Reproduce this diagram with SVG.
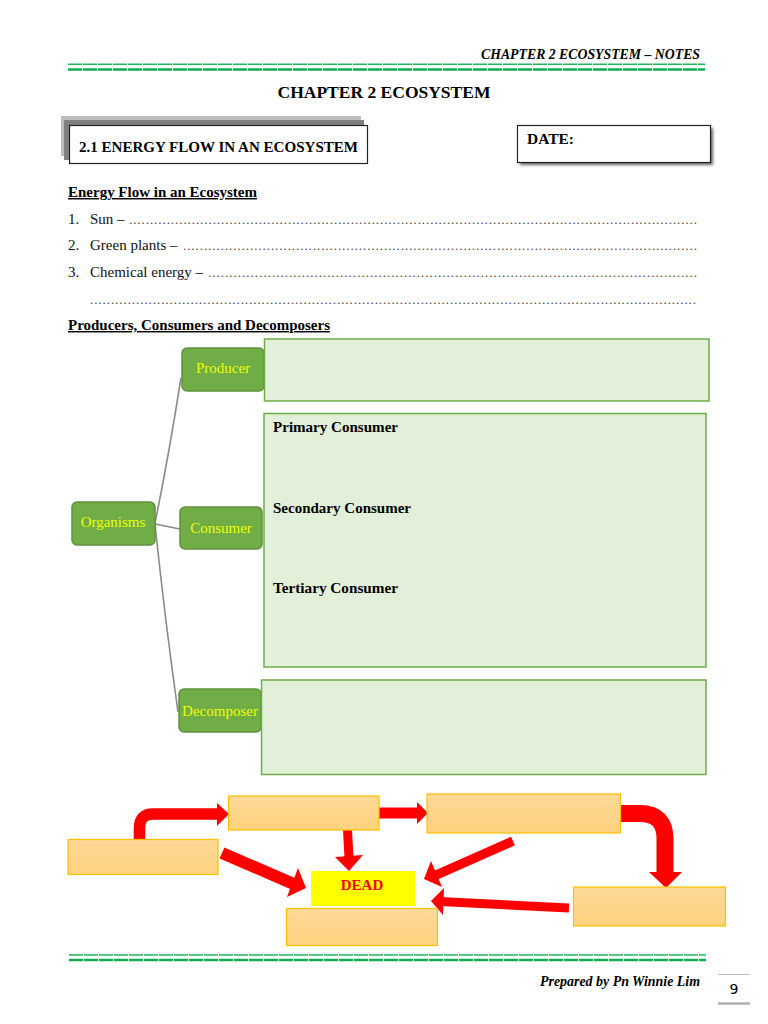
<svg xmlns="http://www.w3.org/2000/svg" width="768" height="1024" viewBox="0 0 768 1024">
<style>
text{font-family:"Liberation Serif","Times New Roman",serif;fill:#000}
.b{font-weight:700}
.t{font-size:14.500px}
.hd{font-size:14.500px;font-weight:700;text-decoration:underline}
.ln{font-size:15px;fill:#111}
.dots{font-size:13px;fill:#444}
.g{fill:#70ad47;stroke:#5f9140;stroke-width:1.5}
.gt{font-size:15px;fill:#eeff00;text-anchor:middle}
.pale{fill:#e2efd9;stroke:#70ad47;stroke-width:1.5}
.or{fill:url(#og);stroke:#ffc000;stroke-width:1.2}
.c{fill:none;stroke:#8a8a8a;stroke-width:1.6}
.ra{fill:#f00;stroke:none}
.rl{fill:none;stroke:#f00}
.gl1{stroke:#21b35c;stroke-width:1.4;stroke-dasharray:14.2 .8;fill:none}
.gl2{stroke:#10ad50;stroke-width:2.4;stroke-dasharray:14.2 .8;fill:none}
</style>
<defs>
<linearGradient id="og" x1="0" y1="0" x2="0" y2="1"><stop offset="0" stop-color="#fdd998"/><stop offset="1" stop-color="#fed27e"/></linearGradient>
<filter id="sh" x="-10%" y="-20%" width="120%" height="150%"><feGaussianBlur stdDeviation="1.500"/></filter>
</defs>
<rect width="768" height="1024" fill="#fff"/>

<g id="header">
<text x="700" y="59" text-anchor="end" font-size="14" font-weight="700" font-style="italic" textLength="219" lengthAdjust="spacingAndGlyphs">CHAPTER 2 ECOSYSTEM – NOTES</text>
<path class="gl1" d="M68 64.200H705"/><path class="gl2" d="M68 69.500H705"/>
<text x="384" y="98" text-anchor="middle" font-size="17.500" font-weight="700">CHAPTER 2 ECOSYSTEM</text>
</g>

<g id="section-title">
<rect x="61" y="116" width="300" height="40" fill="#bdbdbd"/>
<rect x="64" y="120" width="300" height="40" fill="#808080"/>
<rect x="69.500" y="125.500" width="298" height="38" fill="#fff" stroke="#222" stroke-width="1.200"/>
<text x="79" y="152" font-size="14.500" font-weight="700" textLength="279" lengthAdjust="spacingAndGlyphs">2.1 ENERGY FLOW IN AN ECOSYSTEM</text>
</g>

<g id="date">
<rect x="520" y="128" width="193" height="37" fill="#666" filter="url(#sh)"/>
<rect x="517.500" y="125.500" width="193" height="37" fill="#fff" stroke="#222" stroke-width="1.200"/>
<text x="527" y="144" font-size="15" font-weight="700" textLength="47" lengthAdjust="spacingAndGlyphs">DATE:</text>
</g>

<g id="energy-flow-text">
<text class="hd" x="68" y="197" textLength="189" lengthAdjust="spacingAndGlyphs">Energy Flow in an Ecosystem</text>
<text class="ln" x="68" y="224">1.</text><text class="ln" x="90" y="224">Sun – </text>
<text class="dots" x="129" y="224" textLength="568" lengthAdjust="spacing">........................................................................................................................................</text>
<text class="ln" x="68" y="250">2.</text><text class="ln" x="90" y="250">Green plants – </text>
<text class="dots" x="183" y="250" textLength="514" lengthAdjust="spacing">...........................................................................................................................</text>
<text class="ln" x="68" y="277">3.</text><text class="ln" x="90" y="277">Chemical energy – </text>
<text class="dots" x="208" y="277" textLength="489" lengthAdjust="spacing">...................................................................................................................</text>
<text class="dots" x="90" y="304" textLength="606" lengthAdjust="spacing">.................................................................................................................................................</text>
<text class="hd" x="68" y="330" textLength="262" lengthAdjust="spacingAndGlyphs">Producers, Consumers and Decomposers</text>
</g>

<g id="connectors">
<path class="c" d="M155 523Q168 460 181 378"/>
<path class="c" d="M155 524L180 529"/>
<path class="c" d="M155 524Q165 620 178 712"/>
</g>

<g id="organisms"><rect class="g" x="72" y="502" width="83" height="43" rx="5"/><text class="gt" x="113" y="527">Organisms</text></g>
<g id="producer"><rect class="g" x="182" y="348" width="82" height="43" rx="5"/><text class="gt" x="223" y="373">Producer</text></g>
<g id="consumer"><rect class="g" x="180" y="507" width="82" height="42" rx="5"/><text class="gt" x="221" y="533">Consumer</text></g>
<g id="decomposer"><rect class="g" x="179" y="689" width="82" height="43" rx="5"/><text class="gt" x="220" y="716">Decomposer</text></g>

<g id="producer-box"><rect class="pale" x="264.500" y="339" width="444.500" height="62"/></g>
<g id="consumer-box"><rect class="pale" x="264" y="413.500" width="442" height="253.500"/>
<text class="b t" x="273" y="432" textLength="125" lengthAdjust="spacingAndGlyphs">Primary Consumer</text>
<text class="b t" x="273" y="513" textLength="138" lengthAdjust="spacingAndGlyphs">Secondary Consumer</text>
<text class="b t" x="273" y="593" textLength="125" lengthAdjust="spacingAndGlyphs">Tertiary Consumer</text></g>
<g id="decomposer-box"><rect class="pale" x="261.500" y="680" width="444.500" height="94.500" stroke-width="1"/></g>

<g id="flow-connectors">
<path class="rl" stroke-width="11.500" d="M139.500 839V828Q139.500 814 153 814H219"/>
<path class="ra" d="M217 803L229 814L217 826Z"/>
<path class="rl" stroke-width="11" d="M379 813H418"/>
<path class="ra" d="M417 802L428 813L417 824Z"/>
<path class="rl" stroke-width="17" d="M621 813.500H640Q665 813.500 665 839V873"/>
<path class="ra" d="M649 872H682L666 888Z"/>
<path class="rl" stroke-width="9" d="M347.500 830L349 858"/>
<path class="ra" d="M335 857L363 855L349 871Z"/>
<path class="rl" stroke-width="12" d="M222 853L296 885"/>
<path class="ra" d="M298 868L306 888L287 897Z"/>
<path class="rl" stroke-width="9.500" d="M513 841L434 876"/>
<path class="ra" d="M431 861L424 879L442 887Z"/>
<path class="rl" stroke-width="9" d="M569 908L440 901.500"/>
<path class="ra" d="M444 888L431 901L443 915Z"/>
</g>

<g id="box-1"><rect class="or" x="68" y="839.500" width="150" height="35"/></g>
<g id="box-2"><rect class="or" x="228.500" y="796" width="150.500" height="34"/></g>
<g id="box-3"><rect class="or" x="427" y="794" width="193.500" height="39"/></g>
<g id="box-4"><rect class="or" x="573.500" y="887" width="152" height="39"/></g>
<g id="dead"><rect x="311" y="871" width="104" height="35" fill="#ff0"/><text x="362" y="890" text-anchor="middle" font-size="15" font-weight="700" style="fill:#f00">DEAD</text></g>
<g id="box-5"><rect class="or" x="286.500" y="908.500" width="151" height="37"/></g>

<g id="footer">
<path class="gl1" d="M69 955H706"/><path class="gl2" d="M69 960H706"/>
<text x="700" y="986" text-anchor="end" font-size="14" font-weight="700" font-style="italic" textLength="160" lengthAdjust="spacingAndGlyphs">Prepared by Pn Winnie Lim</text>
<path d="M718 974.500H750" stroke="#bbb" stroke-width="1" fill="none"/>
<path d="M718 1003.500H750" stroke="#b0b0b0" stroke-width="2.500" fill="none"/>
<text x="734" y="994" text-anchor="middle" font-size="14" style="font-family:'DejaVu Sans',sans-serif">9</text>
</g>
</svg>
